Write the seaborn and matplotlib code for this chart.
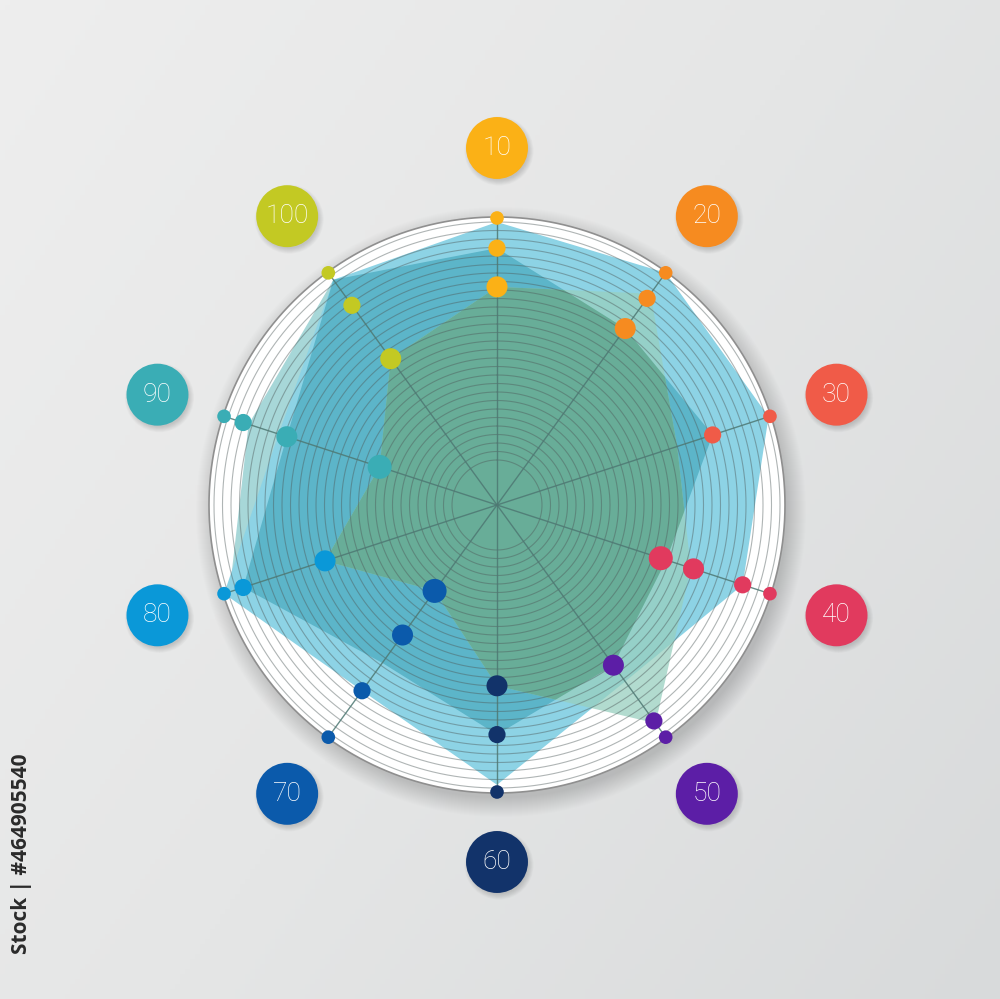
import numpy as np
import pandas as pd
import matplotlib.pyplot as plt
from matplotlib.patches import Circle
from matplotlib.colors import LinearSegmentedColormap
import seaborn as sns

# Spoke labels (clockwise from the top) and their colours
labels = ['10', '20', '30', '40', '50', '60', '70', '80', '90', '100']
colors = ['#fbb116', '#f68b20', '#f05b48', '#e13a5e', '#5c1ea6',
          '#12336a', '#0b5aab', '#0a98d8', '#3aadb5', '#c3c923']

# Filled areas, value per spoke (100 = rim of the white disc)
area_wedge = [30, 30, 30, 30, 30, 30, 30, 98, 91, 97]
area_light = [98.6, 100, 99.5, 90, 76, 97.5, 80, 100, 80, 97]
area_mid = [89.5, 76, 79, 62, 69, 80, 68, 93, 77, 97]
area_core = [76, 91, 66, 71, 94, 63, 37, 63, 43, 63]

# Dots on the spokes, from the smallest (outer) to the largest
dots_outer = [100, 100, 100, 100, 100, 100, 100, 100, 100, 100]
dots_second = [89.5, 89, 79, 90, 93, 80, 80, 93, 93, 86]
dots_third = [76, 76, np.nan, 72, 69, 63, 56, 63, 77, 63]
dots_inner = [np.nan, np.nan, np.nan, 60, np.nan, np.nan, 37, np.nan, 43, np.nan]

sns.set_theme(style='white')
plt.rcParams['font.family'] = ['Roboto', 'DejaVu Sans']

PX = 2.87                 # pixels per value unit
RMAX = 390 / PX
LABEL_R = 357 / PX
cx, cy = 497, 505         # chart centre in pixels

theta = np.linspace(0, 2 * np.pi, len(labels), endpoint=False)
palette = dict(zip(labels, colors))
ring_t = np.linspace(0, 2 * np.pi, 721)


def closed(vals):
    return np.append(theta, theta[0]), np.append(vals, vals[0])


fig = plt.figure(figsize=(10, 9.99), dpi=100)

# background gradient + soft shadows
bg = fig.add_axes([0, 0, 1, 1])
yy, xx = np.mgrid[0:1:200j, 0:1:200j]
cmap = LinearSegmentedColormap.from_list('bg', ['#eeeeee', '#e5e6e6', '#d8dadb'])
bg.imshow(xx * 0.6 + yy * 0.4, cmap=cmap, extent=[0, 1000, 999, 0], aspect='auto')
for i in range(20):
    bg.add_patch(Circle((cx + 4, cy + 7), 286 + i * 1.0, color='black', alpha=0.009, lw=0))
for t in theta:
    lx, ly = cx + 357 * np.sin(t), cy - 357 * np.cos(t)
    for i in range(8):
        bg.add_patch(Circle((lx + 2, ly + 3), 29 + i * 0.8, color='black', alpha=0.018, lw=0))
bg.text(22, 754, 'Stock | #464905540', rotation=90, rotation_mode='anchor',
        ha='right', va='center', fontsize=15, fontweight='bold',
        family=['Open Sans', 'DejaVu Sans'], color='#2a2a2a')
bg.set_xlim(0, 1000)
bg.set_ylim(999, 0)
bg.axis('off')

# radar
ax = fig.add_axes([(cx - 390) / 1000, (999 - cy - 390) / 999, 780 / 1000, 780 / 999],
                  projection='polar')
ax.set_theta_zero_location('N')
ax.set_theta_direction(-1)

ax.fill(ring_t, np.full_like(ring_t, 288 / PX), color='white', lw=0, zorder=1)

ax.fill(*closed(area_wedge), color='#a7d7d8', lw=0, zorder=2)
ax.fill(*closed(area_light), color='#8dd3e5', lw=0, zorder=3)
mid = ax.fill(*closed(area_mid), color='#5cb5c9', lw=0, zorder=4)[0]
ax.fill(*closed(area_core), color='#98d0bf', alpha=0.75, lw=0, zorder=5)
core_dark = ax.fill(*closed(area_core), color='#68ad98', lw=0, zorder=6)[0]
core_dark.set_clip_path(mid)

for r in 45 + 8.5 * np.arange(29):
    ax.plot(ring_t, np.full_like(ring_t, r / PX), color='#4f5b5b', alpha=0.45, lw=0.8, zorder=7)
ax.plot(ring_t, np.full_like(ring_t, 288 / PX), color='#8f8f8f', lw=1.2, zorder=8)

for t in theta:
    ax.plot([t, t], [0, 100], color='#4e7873', lw=1.0, alpha=0.85, zorder=9)

for vals, s in [(dots_outer, 96), (dots_second, 153), (dots_third, 229), (dots_inner, 299)]:
    d = pd.DataFrame({'theta': theta, 'r': vals, 'axis': labels}).dropna()
    sns.scatterplot(data=d, x='theta', y='r', hue='axis', palette=palette, s=s,
                    linewidth=0, legend=False, ax=ax, zorder=10)

# label badges
sns.scatterplot(x=theta, y=np.full(len(labels), LABEL_R), hue=labels, palette=palette,
                s=1990, linewidth=0, legend=False, ax=ax, zorder=10)
for t, lab in zip(theta, labels):
    ax.text(t, LABEL_R, lab, ha='center', va='center', color='white',
            fontsize=19, fontweight='ultralight', zorder=11)

ax.set_ylim(0, RMAX)
ax.axis('off')

fig.savefig('out.png', dpi=100)
